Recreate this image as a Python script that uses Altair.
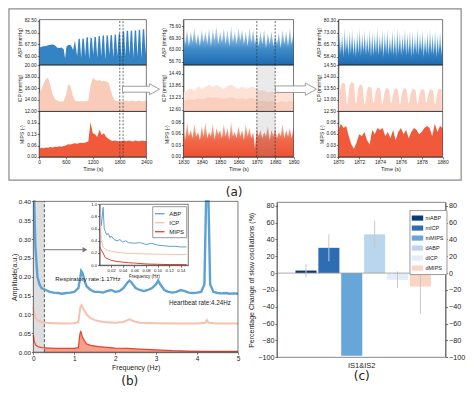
import altair as alt
import pandas as pd

# ======================= DATA =======================
# ---- (a) left column: 0-2400 s ----
A1_ABP_T = [0, 50, 100, 150, 200, 250, 300, 350, 400, 450, 500, 550, 580, 610, 660, 710, 760, 800,
            850, 880, 910, 940, 970, 1000, 1030, 1060, 1090, 1120, 1150, 1180, 1210, 1240, 1270,
            1300, 1330, 1360, 1390, 1420, 1450, 1480, 1510, 1540, 1570, 1600, 1630, 1660, 1690, 1720,
            1750, 1780, 1810, 1840, 1870, 1900, 1930, 1960, 1990, 2020, 2050, 2080, 2110, 2140, 2170,
            2200, 2230, 2260, 2290, 2320, 2350, 2380, 2400]
A1_ABP = [65.5, 66, 66.3, 66.5, 67, 67.3, 67.5, 67, 65.5, 65.3, 65.5, 64.5, 58.5, 66, 67.3, 67, 64, 70,
          60, 71, 71.3, 59, 71.5, 71, 60, 72, 72, 58, 72, 71.5, 61, 72.5, 72,
          59, 72.5, 73, 60, 73, 73.3, 58, 73.5, 73, 61, 73.5, 73.3, 59, 74, 73.5,
          60, 74, 75, 59, 75.5, 76, 60, 76, 76.3, 61, 76, 76.5, 59, 76.5, 76.3,
          60, 77, 76.5, 59, 77, 77.3, 61, 76.5]
A1_T50 = list(range(0, 2401, 50))
A1_ICP = [15.0, 15.8, 16.8, 17.6, 17.8, 16.5, 15.0, 14.2, 13.9, 13.7, 13.7, 13.8, 14.8, 16.7, 16.4,
          14.8, 13.9, 13.8, 13.7, 13.8, 13.7, 13.8, 13.9, 16.5, 17.8, 17.5, 17.3, 17.4, 17.2, 17.3,
          17.1, 17.0, 15.8, 14.5, 13.9, 13.8, 13.9, 13.7, 13.8, 13.9, 13.7, 13.8, 13.9, 13.7, 13.8,
          13.9, 13.7, 13.8, 13.8]
A1_MIPS = [0.045, 0.05, 0.048, 0.052, 0.05, 0.055, 0.052, 0.056, 0.055, 0.058, 0.056, 0.06, 0.062,
           0.07, 0.068, 0.072, 0.075, 0.072, 0.076, 0.078, 0.076, 0.08, 0.085, 0.19, 0.13, 0.125,
           0.11, 0.15, 0.12, 0.13, 0.11, 0.1, 0.092, 0.088, 0.09, 0.087, 0.085, 0.088, 0.09, 0.086,
           0.09, 0.088, 0.085, 0.09, 0.088, 0.086, 0.09, 0.087, 0.088]
A1_MARKS = [1805, 1878]

# ---- (a) middle column: 1830-1890 s ----
A2_T1 = list(range(1830, 1891))
A2_T2 = list(range(1830, 1891, 2))
A2_ABP = [72, 66, 74, 65, 73, 67, 75, 66, 72, 65, 74, 67, 73, 66, 75, 65, 74, 68, 76, 66,
          73, 67, 75, 66, 74, 65, 76, 67, 73, 66, 75, 68, 74, 66, 73, 65, 75, 67, 74, 66,
          72, 65, 73, 66, 74, 64, 72, 66, 73, 65, 71, 66, 72, 64, 74, 66, 73, 65, 75, 66, 73]
A2_ICP_UP = [13.5, 13.6, 13.7, 13.6, 13.8, 13.7, 13.8, 13.9, 13.8, 13.9, 13.8, 13.7, 13.85, 13.9,
             13.8, 13.7, 13.8, 13.7, 13.75, 13.8, 13.7, 13.6, 13.6, 13.5, 13.55, 13.5, 13.5, 13.6,
             13.5, 13.55, 13.5]
A2_ICP_LO = [13.05, 13.1, 13.15, 13.1, 13.2, 13.15, 13.2, 13.25, 13.2, 13.25, 13.2, 13.15, 13.2,
             13.25, 13.2, 13.15, 13.2, 13.15, 13.2, 13.2, 13.1, 13.05, 13.05, 13.0, 13.05, 13.0,
             13.0, 13.05, 13.0, 13.05, 13.0]
A2_MIPS = [0.07, 0.04, 0.085, 0.05, 0.065, 0.045, 0.08, 0.05, 0.06, 0.04, 0.075, 0.05, 0.085, 0.045,
           0.06, 0.05, 0.08, 0.04, 0.07, 0.055, 0.065, 0.045, 0.08, 0.05, 0.07, 0.04, 0.085, 0.05,
           0.06, 0.045, 0.075, 0.05, 0.065, 0.04, 0.08, 0.05, 0.07, 0.045, 0.06, 0.02, 0.07, 0.05,
           0.065, 0.045, 0.06, 0.05, 0.075, 0.04, 0.065, 0.05, 0.07, 0.045, 0.06, 0.05, 0.08, 0.045,
           0.065, 0.05, 0.07, 0.045, 0.075]
A2_MARKS = [1870, 1880]

# ---- (a) right column: 1870-1880 s ----
A3_ABP_TROUGH = [59, 60, 58, 61, 59, 60, 59, 58, 60, 59, 61, 59, 60, 58, 59, 60, 59, 61, 58, 60, 59,
                 60, 59, 58, 60, 59, 61, 59, 60, 58, 59, 60, 59, 61, 58, 60, 59, 60, 59, 58, 60, 59]
A3_ABP_PEAK = [74, 73, 77, 72, 75, 76, 71, 74, 77, 73, 75, 72, 76, 74, 73, 77, 72, 75, 74, 76, 71,
               75, 73, 77, 74, 72, 76, 73, 75, 74, 72, 76, 73, 75, 71, 74, 76, 73, 75, 72, 74, 73]
A3_ICP = [12.85, 13.5, 13.74, 13.68, 12.8, 13.55, 13.76, 13.7, 12.85, 13.45, 13.66, 13.58,
          12.8, 13.38, 13.57, 13.5, 12.85, 13.35, 13.53, 13.48, 12.8, 13.32, 13.5, 13.45,
          12.85, 13.3, 13.49, 13.44, 12.8, 13.3, 13.5, 13.44, 12.85, 13.28, 13.47, 13.42,
          12.8, 13.28, 13.46, 13.42, 12.85, 13.28, 13.46, 13.4, 12.8, 13.3, 13.48, 13.42]
A3_MIPS = [0.065, 0.08, 0.07, 0.075, 0.05, 0.03, 0.02, 0.035, 0.055, 0.05, 0.06, 0.04, 0.03, 0.065,
           0.055, 0.07, 0.065, 0.07, 0.05, 0.06, 0.045, 0.065, 0.04, 0.06, 0.07, 0.055, 0.065, 0.045,
           0.06, 0.07, 0.065, 0.055, 0.06, 0.07, 0.075, 0.07, 0.05, 0.08, 0.06, 0.075, 0.07]

# ---- (b) amplitude spectra ----
B_ABP_F = [0, 0.02, 0.05, 0.1, 0.15, 0.2, 0.3, 0.4, 0.5, 0.6, 0.7, 0.8, 0.9, 1.0, 1.1, 1.15, 1.17,
           1.2, 1.25, 1.3, 1.4, 1.5, 1.6, 1.7, 1.8, 1.9, 2.0, 2.1, 2.2, 2.3, 2.35, 2.4, 2.5, 2.6,
           2.7, 2.8, 2.9, 3.0, 3.05, 3.1, 3.2, 3.3, 3.4, 3.5, 3.6, 3.7, 3.8, 3.9, 4.0, 4.1, 4.18,
           4.22, 4.24, 4.28, 4.32, 4.4, 4.5, 4.6, 4.7, 4.8, 4.9, 5.0]
B_ABP = [0.45, 0.40, 0.28, 0.20, 0.18, 0.17, 0.165, 0.16, 0.158, 0.157, 0.155, 0.157, 0.158, 0.16,
         0.17, 0.20, 0.215, 0.21, 0.19, 0.175, 0.165, 0.16, 0.16, 0.158, 0.162, 0.165, 0.16, 0.162,
         0.17, 0.185, 0.19, 0.185, 0.17, 0.165, 0.162, 0.165, 0.17, 0.18, 0.19, 0.18, 0.165, 0.16,
         0.158, 0.16, 0.165, 0.162, 0.158, 0.157, 0.158, 0.16, 0.18, 0.42, 0.45, 0.42, 0.18, 0.16,
         0.157, 0.156, 0.157, 0.155, 0.156, 0.155]
B_ICP_F = [0, 0.03, 0.06, 0.1, 0.2, 0.3, 0.5, 0.8, 1.0, 1.1, 1.15, 1.18, 1.22, 1.3, 1.4, 1.5, 1.7,
           2.0, 2.2, 2.3, 2.35, 2.45, 2.6, 3.0, 3.5, 4.0, 4.2, 4.24, 4.28, 4.5, 5.0]
B_ICP = [0.12, 0.1, 0.09, 0.085, 0.08, 0.078, 0.077, 0.076, 0.077, 0.08, 0.12, 0.125, 0.115, 0.1,
         0.09, 0.085, 0.08, 0.078, 0.08, 0.085, 0.087, 0.082, 0.078, 0.077, 0.076, 0.076, 0.078,
         0.085, 0.078, 0.076, 0.076]
B_MIPS_F = [0, 0.02, 0.05, 0.1, 0.2, 0.4, 0.6, 0.8, 1.0, 1.1, 1.14, 1.16, 1.2, 1.25, 1.3, 1.4, 1.6,
            1.8, 2.0, 2.3, 2.6, 3.0, 3.4, 3.8, 4.2, 4.6, 5.0]
B_MIPS = [0.045, 0.03, 0.02, 0.015, 0.012, 0.011, 0.01, 0.01, 0.01, 0.012, 0.05, 0.055, 0.04, 0.03,
          0.022, 0.018, 0.015, 0.013, 0.011, 0.01, 0.008, 0.006, 0.004, 0.003, 0.002, 0.002, 0.002]
B_SHADE = [0, 0.27]
# inset (0-0.15 Hz)
I_ABP_F = [0, 0.003, 0.006, 0.008, 0.01, 0.012, 0.015, 0.018, 0.02, 0.025, 0.03, 0.035, 0.04, 0.045,
           0.05, 0.06, 0.07, 0.08, 0.09, 0.1, 0.11, 0.12, 0.13, 0.14, 0.15]
I_ABP = [1.0, 0.65, 0.95, 0.6, 0.55, 0.5, 0.52, 0.45, 0.48, 0.42, 0.4, 0.42, 0.38, 0.4, 0.37, 0.36,
         0.37, 0.34, 0.36, 0.33, 0.32, 0.31, 0.31, 0.3, 0.3]
I_ICP_F = [0, 0.003, 0.006, 0.01, 0.015, 0.02, 0.03, 0.04, 0.06, 0.08, 0.1, 0.12, 0.15]
I_ICP = [1.0, 0.4, 0.3, 0.26, 0.24, 0.23, 0.21, 0.2, 0.19, 0.185, 0.18, 0.178, 0.175]
I_MIPS_F = [0, 0.003, 0.006, 0.01, 0.015, 0.02, 0.03, 0.04, 0.05, 0.06, 0.08, 0.1, 0.12, 0.15]
I_MIPS = [0.3, 0.25, 0.2, 0.12, 0.1, 0.08, 0.06, 0.05, 0.04, 0.035, 0.02, 0.015, 0.01, 0.008]
SIGNALS = ["ABP", "ICP", "MIPS"]

# ---- (c) percentage change ----
C_NAMES = ["mABP", "mICP", "mMIPS", "dABP", "dICP", "dMIPS"]
C_VALUES = [3, 30, -98, 46, -8, -16]
C_LO = [-5, 14, -98, 29, -18, -48]
C_HI = [11, 46, -98, 62, 2, 16]
C_GROUP = ["IS1&IS2"]

LABELS = ["(a)", "(b)", "(c)", "Respiratory rate:1.17Hz", "Heartbeat rate:4.24Hz"]

# ======================= LAYOUT HELPERS =======================
W, H = 458, 379
def X(r): return round((r - 2) * W / 470, 2)
def Y(r): return round((r - 2) * H / 392, 2)

FONT = "Liberation Sans"
ONE = pd.DataFrame({"k": [0]})
BLUE_GRAD = alt.Gradient(gradient="linear", x1=1, x2=1, y1=1, y2=0,
                         stops=[alt.GradientStop(color="#1c6ab0", offset=0),
                                alt.GradientStop(color="#3f8bc9", offset=0.4),
                                alt.GradientStop(color="#d9e8f6", offset=1)])
RED_GRAD = alt.Gradient(gradient="linear", x1=1, x2=1, y1=1, y2=0,
                        stops=[alt.GradientStop(color="#ee5132", offset=0),
                               alt.GradientStop(color="#f06a4c", offset=0.5),
                               alt.GradientStop(color="#fbcdbd", offset=1)])


def axis(orient, pos, values=None, fmt=None, title=None, lsize=5, tsize=5.5, **kw):
    if orient == "bottom":
        off = Y(pos) - H
    elif orient == "top":
        off = -Y(pos)
    elif orient == "left":
        off = -X(pos)
    else:
        off = X(pos) - W
    d = dict(orient=orient, offset=off, grid=False, labelFont=FONT, titleFont=FONT,
             labelFontSize=lsize, titleFontSize=tsize, tickSize=2, tickWidth=0.6, domainWidth=0.6,
             domainColor="#222", tickColor="#222", labelColor="#222", titleColor="#222",
             labelPadding=1, titlePadding=2, titleFontWeight="normal", labelFlush=False,
             labelOverlap=False, title=title)
    if values is not None:
        d["values"] = values
    if fmt is not None:
        d["format"] = fmt
    d.update(kw)
    return alt.Axis(**d)


def group(*charts):
    # shared scales inside a panel, one axis per channel defined by a single child
    return alt.layer(*charts).resolve_axis(x="independent", y="independent")


def frame(xs, ys, xdom, ydom, color="#222", sw=0.6):
    return alt.Chart(ONE).mark_rect(fill="transparent", stroke=color, strokeWidth=sw).encode(
        x=alt.X(datum=xdom[0], type="quantitative", scale=xs, axis=None),
        x2=alt.X2(datum=xdom[1]),
        y=alt.Y(datum=ydom[0], type="quantitative", scale=ys, axis=None),
        y2=alt.Y2(datum=ydom[1]))


def ts_panel(series, xdom, ydom, xr, yr, xaxis, yaxis, marks=(), shade=None, shade_op=0.18):
    xs = alt.Scale(domain=xdom, range=[X(xr[0]), X(xr[1])], nice=False, zero=False, clamp=True)
    ys = alt.Scale(domain=ydom, range=[Y(yr[1]), Y(yr[0])], nice=False, zero=False, clamp=True)
    layers = []
    for i, (t, v, fill, interp) in enumerate(series):
        df = pd.DataFrame({"t": t, "v": v})
        layers.append(alt.Chart(df).mark_area(color=fill, interpolate=interp).encode(
            x=alt.X("t:Q", scale=xs, axis=xaxis if i == 0 else None),
            y=alt.Y("v:Q", scale=ys, axis=yaxis if i == 0 else None),
            y2=alt.Y2(datum=ydom[0])))
    if shade is not None:
        layers.append(alt.Chart(ONE).mark_rect(color="#8c8c8c", opacity=shade_op).encode(
            x=alt.X(datum=shade[0], type="quantitative", scale=xs, axis=None),
            x2=alt.X2(datum=shade[1]),
            y=alt.Y(datum=ydom[0], type="quantitative", scale=ys, axis=None),
            y2=alt.Y2(datum=ydom[1])))
    if marks:
        layers.append(alt.Chart(pd.DataFrame({"t": list(marks)})).mark_rule(
            color="#333", strokeWidth=0.7, strokeDash=[2, 1.5]).encode(
            x=alt.X("t:Q", scale=xs, axis=None),
            y=alt.Y(datum=ydom[0], type="quantitative", scale=ys, axis=None),
            y2=alt.Y2(datum=ydom[1])))
    layers.append(frame(xs, ys, xdom, ydom))
    return group(*layers)


ROWS = [(14, 61), (61, 109), (109, 156)]
TITLES = ["ABP (mmHg)", "ICP (mmHg)", "MIPS (-)"]

# right column time grids (regular sampling)
A3_T_ABP = [1870 + i * 10 / 83 for i in range(84)]
A3_ABP = [v for pair in zip(A3_ABP_TROUGH, A3_ABP_PEAK) for v in pair]
A3_T_ICP = [1870 + i * 0.211 for i in range(48)]
A3_T_MIPS = [1870 + i * 0.25 for i in range(41)]

columns = [
    dict(xr=(34, 144), xdom=[0, 2400], xvals=[0, 600, 1200, 1800, 2400], ylab_x=34,
         rows=[
             ([(A1_ABP_T, A1_ABP, "#3483c3", "linear")], [54.4, 83.3], [60, 67.5, 75, 82.5]),
             ([(A1_T50, A1_ICP, "#f9ccba", "linear")], [12, 20], [12, 14, 16, 18, 20]),
             ([(A1_T50, A1_MIPS, "#f05a3b", "linear")], [0, 0.25], [0, 0.0625, 0.125, 0.1875]),
         ], marks=A1_MARKS, shade=None),
    dict(xr=(182, 295), xdom=[1830, 1890], xvals=[1830, 1840, 1850, 1860, 1870, 1880, 1890], ylab_x=182,
         rows=[
             ([(A2_T1, A2_ABP, BLUE_GRAD, "linear")], [54.9, 79.2], [56.7, 63, 69.3, 75.6]),
             ([(A2_T2, A2_ICP_UP, "#fde2d7", "monotone"), (A2_T2, A2_ICP_LO, "#fbcfbe", "monotone")],
              [12.5, 14.95], [12.6, 13.23, 13.86, 14.49]),
             ([(A2_T1, A2_MIPS, RED_GRAD, "linear")], [0, 0.11], [0, 0.028, 0.056, 0.083]),
         ], marks=A2_MARKS, shade=A2_MARKS),
    dict(xr=(341, 448), xdom=[1870, 1880], xvals=[1870, 1872, 1874, 1876, 1878, 1880], ylab_x=341,
         rows=[
             ([(A3_T_ABP, A3_ABP, BLUE_GRAD, "linear")], [53.2, 81.1], [58.4, 65.7, 73, 80.3]),
             ([(A3_T_ICP, A3_ICP, "#fbd2c3", "monotone")], [12.5, 14.5], [12.5, 13, 13.5, 14, 14.5]),
             ([(A3_T_MIPS, A3_MIPS, "#f05a3b", "linear")], [0, 0.11], [0, 0.028, 0.056, 0.083]),
         ], marks=(), shade=None),
]

layers = []
for col in columns:
    for r, (series, ydom, yvals) in enumerate(col["rows"]):
        yr = ROWS[r]
        xaxis = axis("bottom", 156, col["xvals"], "d", "Time (s)", lsize=5, tsize=5.5) if r == 2 else None
        yaxis = axis("left", col["ylab_x"], yvals, ".2f", TITLES[r], lsize=4.8, tsize=5)
        layers.append(ts_panel(series, col["xdom"], ydom, col["xr"], yr, xaxis, yaxis,
                               marks=col["marks"],
                               shade=col["shade"] if r > 0 else None))

# ---- (b) main spectrum ----
BL, BR = 28, 238
bxs = alt.Scale(domain=[0, 5], range=[X(BL), X(BR)], nice=False, zero=False)
bys = alt.Scale(domain=[0, 0.4], range=[Y(358), Y(202)], nice=False, zero=False, clamp=True)
b_shade = alt.Chart(ONE).mark_rect(color="#dedede").encode(
    x=alt.X(datum=B_SHADE[0], type="quantitative", scale=bxs, axis=None), x2=alt.X2(datum=B_SHADE[1]),
    y=alt.Y(datum=0, type="quantitative", scale=bys, axis=None), y2=alt.Y2(datum=0.4))
b_dash = alt.Chart(ONE).mark_rule(color="#333", strokeWidth=0.8, strokeDash=[3, 2]).encode(
    x=alt.X(datum=B_SHADE[1], type="quantitative", scale=bxs, axis=None),
    y=alt.Y(datum=0, type="quantitative", scale=bys, axis=None), y2=alt.Y2(datum=0.4))
b_mips_area = alt.Chart(pd.DataFrame({"f": B_MIPS_F, "v": B_MIPS})).mark_area(
    color="#f4876b", opacity=0.8).encode(
    x=alt.X("f:Q", scale=bxs, axis=axis("bottom", 358, [0, 1, 2, 3, 4, 5], "d", "Frequency (Hz)",
                                         lsize=6.5, tsize=7)),
    y=alt.Y("v:Q", scale=bys, axis=axis("left", BL, [0, 0.05, 0.1, 0.15, 0.2, 0.25, 0.3, 0.35, 0.4],
                                         ".2f", "Amplitude(a.u.)", lsize=6.2, tsize=7, titlePadding=1)),
    y2=alt.Y2(datum=0))
b_mips = alt.Chart(pd.DataFrame({"f": B_MIPS_F, "v": B_MIPS})).mark_line(
    color="#e8442a", strokeWidth=1.2).encode(
    x=alt.X("f:Q", scale=bxs, axis=None), y=alt.Y("v:Q", scale=bys, axis=None))
b_icp = alt.Chart(pd.DataFrame({"f": B_ICP_F, "v": B_ICP})).mark_line(
    color="#f6c2ad", strokeWidth=2).encode(
    x=alt.X("f:Q", scale=bxs, axis=None), y=alt.Y("v:Q", scale=bys, axis=None))
b_abp = alt.Chart(pd.DataFrame({"f": B_ABP_F, "v": B_ABP})).mark_line(
    color="#5ea1d4", strokeWidth=2.4).encode(
    x=alt.X("f:Q", scale=bxs, axis=None), y=alt.Y("v:Q", scale=bys, axis=None))
layers.append(group(b_mips_area, b_shade, b_dash, b_mips, b_icp, b_abp, frame(bxs, bys, [0, 5], [0, 0.4])))

# ---- (b) inset ----
ixs = alt.Scale(domain=[0, 0.153], range=[X(96), X(187)], nice=False, zero=False)
iys = alt.Scale(domain=[0, 1.0], range=[Y(268), Y(205)], nice=False, zero=False, clamp=True)
inset_df = pd.concat([
    pd.DataFrame({"f": I_ABP_F, "v": I_ABP, "s": SIGNALS[0]}),
    pd.DataFrame({"f": I_ICP_F, "v": I_ICP, "s": SIGNALS[1]}),
    pd.DataFrame({"f": I_MIPS_F, "v": I_MIPS, "s": SIGNALS[2]}),
])
inset_lines = alt.Chart(inset_df).mark_line(strokeWidth=1).encode(
    x=alt.X("f:Q", scale=ixs, axis=axis("bottom", 268, [0.02, 0.04, 0.06, 0.08, 0.1, 0.12, 0.14], ".2f",
                                         "Frequency (Hz)", lsize=4.2, tsize=4.5, titlePadding=1)),
    y=alt.Y("v:Q", scale=iys, axis=axis("left", 96, [0, 0.2, 0.4, 0.6, 0.8, 1.0], ".1f", None, lsize=4.2)),
    color=alt.Color("s:N", scale=alt.Scale(domain=SIGNALS, range=["#5ea1d4", "#f6c2ad", "#e8442a"]),
                    legend=alt.Legend(orient="none", legendX=X(150), legendY=Y(207), title=None,
                                      symbolType="stroke", symbolSize=90, symbolStrokeWidth=1.3,
                                      labelFont=FONT, labelFontSize=6, labelColor="#222",
                                      strokeColor="#999", fillColor="white", padding=2,
                                      rowPadding=0, labelOffset=4)),
    detail="s:N")
layers.append(group(inset_lines, frame(ixs, iys, [0, 0.153], [0, 1.0])))

# ---- (c) bars ----
CL, CR = 278, 451
cdf = pd.DataFrame({"name": C_NAMES, "value": C_VALUES, "lo": C_LO, "hi": C_HI})
cxs = alt.Scale(domain=C_NAMES, range=[X(297), X(436)], paddingInner=0.08, paddingOuter=0)
cys = alt.Scale(domain=[-100, 84], range=[Y(363.3), Y(203)], nice=False, zero=False)
c_bars = alt.Chart(cdf).mark_bar().encode(
    x=alt.X("name:N", scale=cxs, axis=None, sort=C_NAMES),
    y=alt.Y("value:Q", scale=cys, axis=axis("left", CL, list(range(-100, 81, 20)), "d",
                                            "Percentage Change of slow oscillations  (%)",
                                            lsize=7.2, tsize=7, titlePadding=3)),
    y2=alt.Y2(datum=0),
    color=alt.Color("name:N", scale=alt.Scale(domain=C_NAMES,
                                              range=["#0b3a78", "#2d6db3", "#66a6d8", "#b9d6ec", "#e2edf7", "#fbd5c4"]),
                    legend=alt.Legend(orient="none", legendX=X(414), legendY=Y(211), title=None,
                                      symbolType="M -1 -0.45 L 1 -0.45 L 1 0.45 L -1 0.45 Z",
                                      symbolSize=130, symbolStrokeWidth=0, labelFont=FONT,
                                      labelFontSize=5.5, labelColor="#222", strokeColor="#999",
                                      fillColor="white", padding=2, rowPadding=0, labelOffset=2)))
c_err = alt.Chart(cdf).mark_rule(color="#c8c8c8", strokeWidth=1).encode(
    x=alt.X("name:N", scale=cxs, axis=None, sort=C_NAMES),
    y=alt.Y("lo:Q", scale=cys, axis=None), y2="hi:Q")
c_zero = alt.Chart(ONE).mark_rule(color="#999", strokeWidth=0.8).encode(
    x=alt.value(X(CL)), x2=alt.value(X(CR)),
    y=alt.Y(datum=0, type="quantitative", scale=cys, axis=None))
c_frame = alt.Chart(ONE).mark_rect(fill="transparent", stroke="#555", strokeWidth=0.7).encode(
    x=alt.value(X(CL)), x2=alt.value(X(CR)),
    y=alt.Y(datum=-100, type="quantitative", scale=cys, axis=None), y2=alt.Y2(datum=84))
c_right = alt.Chart(ONE).mark_rule(opacity=0).encode(
    y=alt.Y(datum=0, type="quantitative", scale=cys,
            axis=axis("right", CR, list(range(-100, 81, 20)), "d", None, lsize=7.2)))
layers.append(group(c_bars, c_err, c_zero, c_frame, c_right))

# ---- decorations & annotations ----
def text(label, xr, yr, size, font=FONT):
    return alt.Chart(ONE).mark_text(text=label, fontSize=size, font=font, color="#222").encode(
        x=alt.value(X(xr)), y=alt.value(Y(yr)))

layers.append(alt.Chart(ONE).mark_rect(fill="transparent", stroke="#8a8a8a", strokeWidth=1.2).encode(
    x=alt.value(X(3)), x2=alt.value(X(467)), y=alt.value(Y(3)), y2=alt.value(Y(180))))

ARROW = "M -1 -0.16 L 0.46 -0.16 L 0.46 -0.3 L 1 0 L 0.46 0.3 L 0.46 0.16 L -1 0.16 Z"
for cx, ln in [(138.5, 37), (297.5, 41)]:
    layers.append(alt.Chart(ONE).mark_point(shape=ARROW, fill="white", stroke="#888", strokeWidth=0.8,
                                            filled=True, opacity=1).encode(
        x=alt.value(X(cx)), y=alt.value(Y(86)), size=alt.value(ln * ln)))

layers.append(alt.Chart(ONE).mark_rule(color="#777", strokeWidth=1).encode(
    x=alt.value(X(38)), x2=alt.value(X(80)), y=alt.value(Y(252))))
layers.append(alt.Chart(ONE).mark_point(shape="triangle-right", filled=True, color="#777", opacity=1).encode(
    x=alt.value(X(81)), y=alt.value(Y(252)), size=alt.value(30)))

layers.append(text(LABELS[0], 234, 192, 12, "DejaVu Sans"))
layers.append(text(LABELS[1], 127, 388, 12, "DejaVu Sans"))
layers.append(text(LABELS[2], 365, 383, 12, "DejaVu Sans"))
layers.append(text(LABELS[3], 84, 282, 6.2))
layers.append(text(LABELS[4], 199, 307, 6.3))
layers.append(text(C_GROUP[0], 365, 372, 7.5))

chart = alt.layer(*layers).resolve_scale(
    x="independent", y="independent", color="independent"
).resolve_axis(x="independent", y="independent").properties(
    width=W, height=H, padding=0, autosize=alt.AutoSizeParams(type="none")
).configure_view(strokeWidth=0)

chart.save("out.html", embed_options={"renderer": "svg", "actions": False})
